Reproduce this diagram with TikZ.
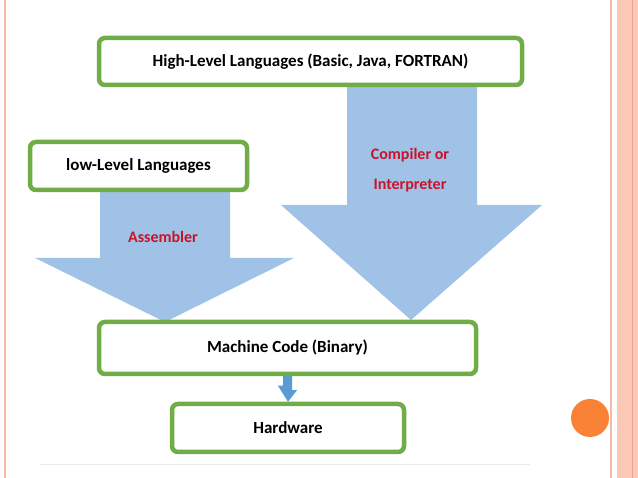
\documentclass[tikz,border=0pt]{standalone}
\usepackage{fontspec}
\setmainfont{Carlito}
\definecolor{boxgreen}{RGB}{112,173,71}
\definecolor{labred}{RGB}{200,20,40}
\definecolor{arrblue}{RGB}{160,194,230}
\definecolor{smallblue}{RGB}{91,155,213}
\definecolor{pinkline}{RGB}{245,185,165}
\definecolor{pinkband}{RGB}{250,200,180}
\definecolor{pinkdark}{RGB}{240,160,140}
\definecolor{dotorange}{RGB}{250,130,55}
\begin{document}
\begin{tikzpicture}[x=1pt,y=-1pt,
 box/.style={draw=boxgreen, line width=4.5pt, rounded corners=6pt, fill=white, inner sep=0pt},
 lbl/.style={font=\bfseries\fontsize{17}{21}\selectfont, text=black},
 redlbl/.style={font=\bfseries\fontsize{16}{30}\selectfont, text=labred, align=center},
 arr/.style={fill=arrblue, draw=none}]
\useasboundingbox (0,0) rectangle (638,478);
\fill[white] (0,0) rectangle (638,478);
\draw[pinkline, line width=1.5pt] (5,0) -- (5,478);
\draw[pinkline, line width=1.5pt] (611,0) -- (611,478);
\fill[pinkband] (617,0) rectangle (638,478);
\draw[pinkdark, line width=1pt] (632,0) -- (632,478);
\draw[black!8, line width=1pt] (40,465) -- (530,465);
% big arrows
\fill[arr] (347,85) -- (477,85) -- (477,205) -- (542,205) -- (411,320) -- (281,205) -- (347,205) -- cycle;
\fill[arr] (100,190) -- (230,190) -- (230,258) -- (294,258) -- (165,322) -- (35,258) -- (100,258) -- cycle;
\node[box, minimum width=423pt, minimum height=47pt, lbl] (high) at (310.5,61.5) {High-Level Languages (Basic, Java, FORTRAN)};
\node[box, minimum width=217pt, minimum height=48pt, lbl] (low) at (138.5,166) {low-Level Languages};
\node[box, minimum width=377pt, minimum height=52pt, lbl] (mc) at (287.5,348) {Machine Code (Binary)};
\node[box, minimum width=232pt, minimum height=48pt, lbl] (hw) at (288,428) {Hardware};
\node[redlbl] (comp) at (410,170) {Compiler or\\Interpreter};
\node[redlbl] (asm) at (163,237) {Assembler};
\fill[smallblue] (mc.south) ++(-4.5,0) -- ++(9,0) -- ++(0,14) -- ++(5,0) -- (hw.north) -- ++(-10,-16) -- ++(5,0) -- cycle;
\node[circle, fill=dotorange, minimum size=38pt, inner sep=0pt] (dot) at (590,418) {};
\end{tikzpicture}
\end{document}
